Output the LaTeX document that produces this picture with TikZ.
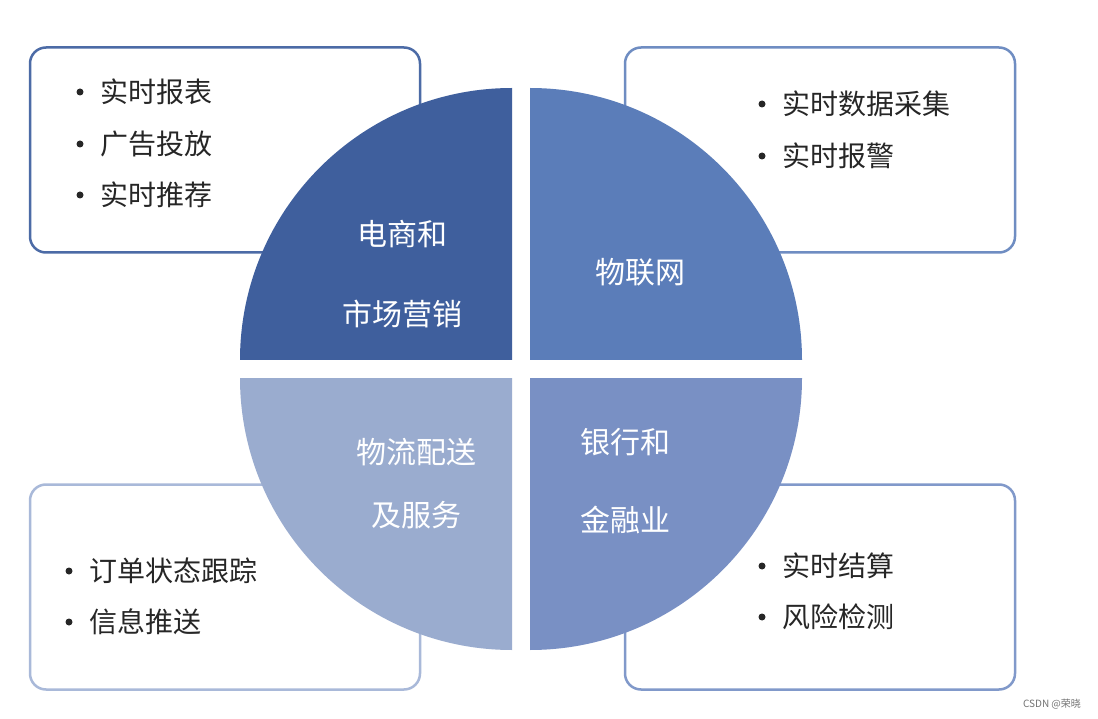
\documentclass[tikz,border=0pt]{standalone}
\usepackage{fontspec}
\setmainfont{Noto Sans CJK SC}
\definecolor{qtl}{HTML}{3F5F9D}
\definecolor{qtr}{HTML}{5B7DB9}
\definecolor{qbl}{HTML}{9AACCF}
\definecolor{qbr}{HTML}{7990C4}
\definecolor{btl}{HTML}{4C6BA6}
\definecolor{btr}{HTML}{6F8DC2}
\definecolor{bbl}{HTML}{A9B9D9}
\definecolor{bbr}{HTML}{8199CA}
\begin{document}
\begin{tikzpicture}[x=1pt, y=-1pt]
  \tikzstyle{card} = [draw, line width=2.5pt, rounded corners=16pt, fill=white, minimum width=390pt, minimum height=205pt, inner sep=0pt]
  \tikzstyle{item} = [anchor=west, font=\fontsize{28pt}{30pt}\selectfont, text=black!85, inner sep=0pt]
  \tikzstyle{dot} = [circle, fill=black!85, inner sep=0pt, minimum size=7pt]
  \tikzstyle{title} = [font=\fontsize{30pt}{32pt}\selectfont, text=white, align=center]
  \useasboundingbox[fill=white] (0,0) rectangle (1098,719);
  % boxes
  \node [card, draw=btl] (boxTL) at (225,150) {};
  \node [card, draw=btr] (boxTR) at (820,150) {};
  \node [card, draw=bbl] (boxBL) at (225,587) {};
  \node [card, draw=bbr] (boxBR) at (820,587) {};
  % quadrants
  \fill [qtl] (512,360) -- (240,360) arc[start angle=180, end angle=90, radius=272pt] -- cycle;
  \fill [qtr] (530,360) -- (530,88) arc[start angle=90, end angle=0, radius=272pt] -- cycle;
  \fill [qbl] (512,378) -- (512,650) arc[start angle=270, end angle=180, radius=272pt] -- cycle;
  \fill [qbr] (530,378) -- (802,378) arc[start angle=0, end angle=-90, radius=272pt] -- cycle;
  \node [title] (ecom1) at (402,234) {电商和};
  \node [title] (ecom2) at (402,314) {市场营销};
  \node [title] (iot) at (640,272) {物联网};
  \node [title] (logi1) at (416,452) {物流配送};
  \node [title] (logi2) at (416,515) {及服务};
  \node [title] (bank1) at (625,442) {银行和};
  \node [title] (bank2) at (625,520) {金融业};
  % bullet lists
  \foreach \y/\t [count=\i] in {92/实时报表, 144/广告投放, 195/实时推荐} {
    \node [dot] (tlDot\i) at (80,\y) {};
    \node [item] (tlItem\i) at (100,\y) {\t};
  }
  \foreach \y/\t [count=\i] in {104/实时数据采集, 156/实时报警} {
    \node [dot] (trDot\i) at (762,\y) {};
    \node [item] (trItem\i) at (782,\y) {\t};
  }
  \foreach \y/\t [count=\i] in {571/订单状态跟踪, 622/信息推送} {
    \node [dot] (blDot\i) at (69,\y) {};
    \node [item] (blItem\i) at (89,\y) {\t};
  }
  \foreach \y/\t [count=\i] in {566/实时结算, 617/风险检测} {
    \node [dot] (brDot\i) at (762,\y) {};
    \node [item] (brItem\i) at (782,\y) {\t};
  }
  \node [font=\fontsize{10pt}{11pt}\selectfont, text=black!55] (mark) at (1052,704) {CSDN @荣晓};
\end{tikzpicture}
\end{document}
